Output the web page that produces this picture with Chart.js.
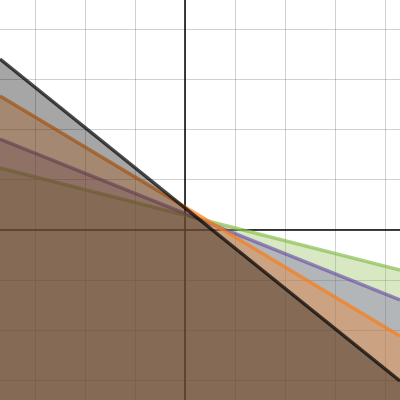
<!DOCTYPE html>
<html><head><style>html,body{margin:0;padding:0;background:#fff}</style>
<script src="https://cdn.jsdelivr.net/npm/chart.js@4"></script></head>
<body><canvas id="c" width="400" height="400"></canvas>
<script>
const xEnds = [-3.7, 4.3];
const blackY = [3.42, -3.02];
const orangeY = [2.68, -2.12];
const purpleY = [1.82, -1.4];
const greenY = [1.24, -0.8];
const xTicks = [-3,-2,-1,0,1,2,3,4];
const yTicks = [-3,-2,-1,0,1,2,3,4];
function pts(ys){return xEnds.map((x,i)=>({x:x,y:ys[i]}));}
function ds(ys,line,fill){return {data:pts(ys),showLine:true,borderColor:line,backgroundColor:fill,borderWidth:3.5,pointRadius:0,fill:'start'};}
const axes = {id:'axes',beforeDatasetsDraw(c){const {ctx,chartArea:a,scales:{x,y}}=c;ctx.save();ctx.strokeStyle='#000';ctx.lineWidth=1.5;
const px=x.getPixelForValue(0),py=y.getPixelForValue(0);ctx.beginPath();ctx.moveTo(px,a.top);ctx.lineTo(px,a.bottom);ctx.moveTo(a.left,py);ctx.lineTo(a.right,py);ctx.stroke();ctx.restore();}};
new Chart(document.getElementById('c'),{type:'scatter',
data:{datasets:[
ds(blackY,'rgba(0,0,0,0.7)','rgba(0,0,0,0.35)'),
ds(orangeY,'rgba(250,126,25,0.7)','rgba(250,126,25,0.35)'),
ds(purpleY,'rgba(96,66,166,0.6)','rgba(96,66,166,0.3)'),
ds(greenY,'rgba(140,190,80,0.7)','rgba(140,190,80,0.35)')]},
options:{responsive:false,animation:false,layout:{padding:0},
plugins:{legend:{display:false},tooltip:{enabled:false}},
scales:{x:{type:'linear',min:-3.7,max:4.3,afterBuildTicks:s=>{s.ticks=xTicks.map(v=>({value:v}));},ticks:{display:false},border:{display:false},grid:{color:'rgba(0,0,0,0.18)',drawTicks:false}},
y:{min:-3.4,max:4.6,afterBuildTicks:s=>{s.ticks=yTicks.map(v=>({value:v}));},ticks:{display:false},border:{display:false},grid:{color:'rgba(0,0,0,0.18)',drawTicks:false}}}},
plugins:[axes]});
</script></body></html>
